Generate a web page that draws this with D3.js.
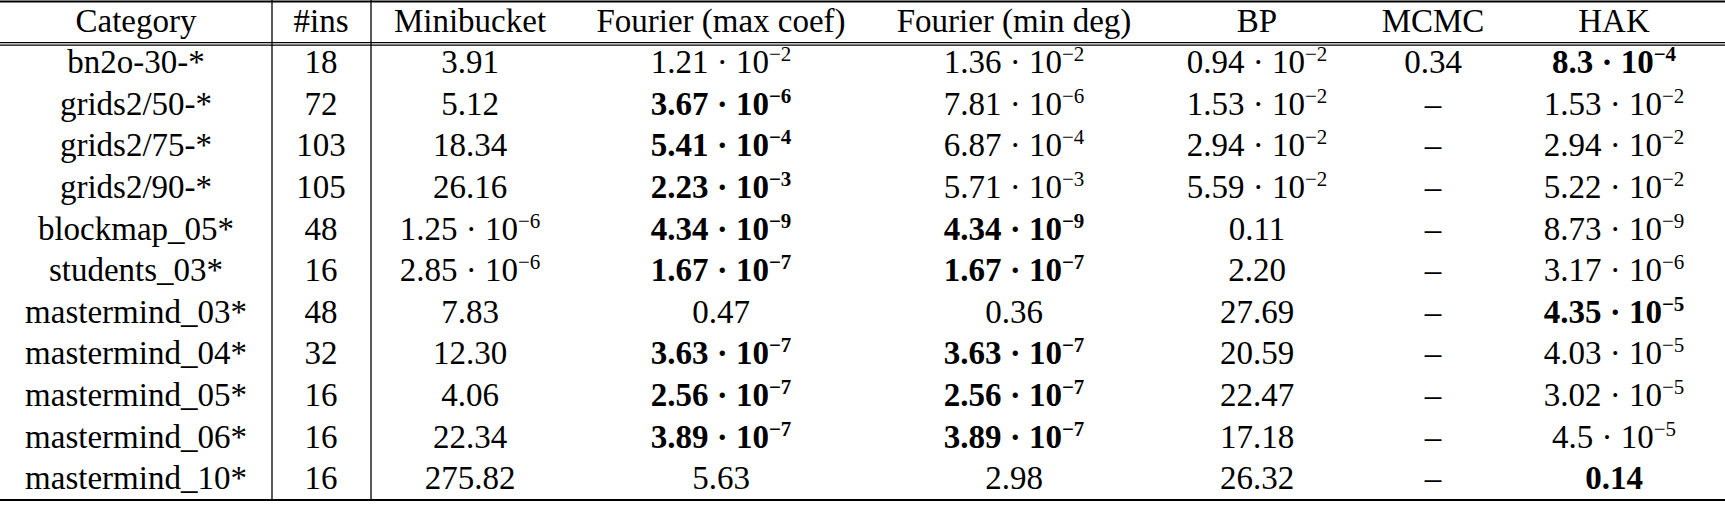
<!DOCTYPE html>
<html>
<head>
<meta charset="utf-8">
<script src="https://cdn.jsdelivr.net/npm/d3@7"></script>
<style>
  body { margin: 0; background: #fff; }
</style>
</head>
<body>
<div id="chart"></div>
<script>
// table content
const headers = ["Category", "#ins", "Minibucket", "Fourier (max coef)", "Fourier (min deg)", "BP", "MCMC", "HAK"];
const categories = ["bn2o-30-*", "grids2/50-*", "grids2/75-*", "grids2/90-*", "blockmap_05*", "students_03*",
  "mastermind_03*", "mastermind_04*", "mastermind_05*", "mastermind_06*", "mastermind_10*"];
const instances = [18, 72, 103, 105, 48, 16, 48, 32, 16, 16, 16];
const minibucket = ["3.91", "5.12", "18.34", "26.16", "1.25e-6", "2.85e-6", "7.83", "12.30", "4.06", "22.34", "275.82"];
const fourierMax = ["1.21e-2", "3.67e-6", "5.41e-4", "2.23e-3", "4.34e-9", "1.67e-7", "0.47", "3.63e-7", "2.56e-7", "3.89e-7", "5.63"];
const fourierMin = ["1.36e-2", "7.81e-6", "6.87e-4", "5.71e-3", "4.34e-9", "1.67e-7", "0.36", "3.63e-7", "2.56e-7", "3.89e-7", "2.98"];
const bp = ["0.94e-2", "1.53e-2", "2.94e-2", "5.59e-2", "0.11", "2.20", "27.69", "20.59", "22.47", "17.18", "26.32"];
const mcmc = ["0.34", null, null, null, null, null, null, null, null, null, null];
const hak = ["8.3e-4", "1.53e-2", "2.94e-2", "5.22e-2", "8.73e-9", "3.17e-6", "4.35e-5", "4.03e-5", "3.02e-5", "4.5e-5", "0.14"];
// which columns are bold in each row
const best = [["HAK"], ["Fourier (max coef)"], ["Fourier (max coef)"], ["Fourier (max coef)"],
  ["Fourier (max coef)", "Fourier (min deg)"], ["Fourier (max coef)", "Fourier (min deg)"], ["HAK"],
  ["Fourier (max coef)", "Fourier (min deg)"], ["Fourier (max coef)", "Fourier (min deg)"],
  ["Fourier (max coef)", "Fourier (min deg)"], ["HAK"]];

const width = 1725, height = 506, fontSize = 33;
const serif = "'Liberation Serif', 'Times New Roman', Times, 'DejaVu Serif', serif";

const svg = d3.select("#chart").append("svg")
  .attr("width", width)
  .attr("height", height)
  .style("font-family", serif);

// column centres and row bands
const x = d3.scaleOrdinal()
  .domain(headers)
  .range([136, 321, 470, 721, 1014, 1257, 1433, 1614]);

const y = d3.scaleBand()
  .domain(categories)
  .range([41.7, 499.1]);

const columns = [categories, instances, minibucket, fourierMax, fourierMin, bp, mcmc, hak];

// rules
const rules = svg.append("g").attr("stroke", "#000");
rules.append("line").attr("x1", 0).attr("x2", width).attr("y1", 1.6).attr("y2", 1.6).attr("stroke-width", 2);
rules.append("line").attr("x1", 0).attr("x2", width).attr("y1", 42.6).attr("y2", 42.6).attr("stroke-width", 1.3);
rules.append("line").attr("x1", 0).attr("x2", width).attr("y1", 45.2).attr("y2", 45.2).attr("stroke-width", 1.3);
rules.append("line").attr("x1", 0).attr("x2", width).attr("y1", 500).attr("y2", 500).attr("stroke-width", 2);
[272, 371].forEach(vx => {
  rules.append("line").attr("x1", vx).attr("x2", vx).attr("y1", 0).attr("y2", 500).attr("stroke-width", 1.3);
});

// header row
svg.append("g").selectAll("text")
  .data(headers)
  .join("text")
  .attr("x", d => x(d))
  .attr("y", 31.5)
  .attr("text-anchor", "middle")
  .attr("font-size", fontSize)
  .attr("fill", "#000")
  .style("font-family", serif)
  .text(d => d);

// write one cell, "m e-k" becomes m · 10^-k
function cell(g, value, bold, numeric) {
  const t = g.append("text")
    .attr("text-anchor", "middle")
    .attr("font-size", fontSize)
    .attr("fill", "#000")
    .style("font-family", serif)
    .attr("font-weight", bold ? 700 : 400);
  if (value === null) { t.text("\u2013"); return; }
  const s = String(value);
  const sci = numeric && /^[\d.]+e-?\d+$/.test(s);
  if (sci) {
    const [m, e] = s.split("e");
    t.append("tspan").text(m + " \u00b7 10");
    t.append("tspan")
      .attr("dy", -12)
      .attr("font-size", 21)
      .text(e.replace("-", "\u2212"));
  } else {
    t.text(s);
  }
}

const body = svg.append("g");
categories.forEach((cat, i) => {
  const row = body.append("g")
    .attr("transform", `translate(0,${y(cat) + y.bandwidth() / 2 + 10.8})`);
  headers.forEach((h, j) => {
    const g = row.append("g").attr("transform", `translate(${x(h)},0)`);
    cell(g, columns[j][i], best[i].includes(h), j >= 2);
  });
});
</script>
</body>
</html>
